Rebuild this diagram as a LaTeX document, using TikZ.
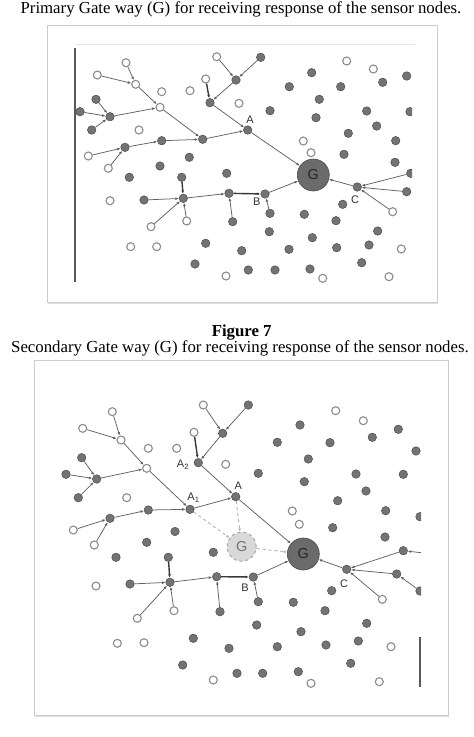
\documentclass[tikz,border=0pt]{standalone}
\usepackage{fontspec}
\setmainfont{Liberation Serif}
\setsansfont{Liberation Sans}
\usetikzlibrary{arrows.meta,shadows}

\begin{document}
\begin{tikzpicture}[x=1pt,y=-1pt,>={Latex[length=3.4pt,width=2.8pt]},
  sensor/.style={circle, draw=black!70, fill=black!55, line width=0.5pt, minimum size=8.5pt, inner sep=0pt},
  idle/.style={circle, draw=black!45, fill=white, line width=1.1pt, minimum size=8pt, inner sep=0pt},
  gate/.style={circle, draw=black!70, fill=black!58, line width=0.6pt, minimum size=32pt, inner sep=0pt, font=\sffamily\Large, text=black!85},
  ghost/.style={circle, draw=black!35, dashed, fill=black!15, line width=1pt, minimum size=29pt, inner sep=0pt, font=\sffamily\Large, text=black!55},
  link/.style={->, draw=black!62, line width=0.75pt},
  bold link/.style={link, line width=1.4pt, draw=black!78},
  hint/.style={->, dashed, draw=black!30, line width=0.9pt},
  tag/.style={font=\sffamily\fontsize{11}{12}\selectfont, text=black!80, inner sep=0pt},
  frame/.style={draw=black!20, line width=1pt, fill=white, drop shadow={shadow xshift=1pt, shadow yshift=-1.5pt, opacity=0.25}},
  caption/.style={font=\fontsize{16.8}{19}\selectfont, inner sep=0pt}]

  \fill[white] (0,0) rectangle (474,737);
  \useasboundingbox (0,0) rectangle (474,737);

  % Primary gateway
  \node[caption, anchor=base] (cap1) at (241,13.5) {Primary Gate way (G) for receiving response of the sensor nodes.};
  \path[frame] (47,25) rectangle (437,302);
  \draw[black!10] (75,44) -- (415,44);
  \draw[black!65, line width=1.5pt] (75,48) -- (75,282);
  \begin{scope}
    \clip (76,40) rectangle (412,292);
    \foreach \p [count=\i] in {(189.3,157.3),(160,166),(129.3,177.3),(226.7,173.3),(311.7,72.7),(406.7,76),
      (382.7,82.3),(289.3,86.7),(340.7,86.7),(319.3,99.3),(270,110.7),(366.7,111),(410,111.7),(316,117.7),
      (376.7,126),(348.3,133.3),(395.7,140.7),(344,154.3),(395,162.3),(342.7,204.3),(304.3,214.3),(336,220.7),
      (269.3,231.7),(312.3,237.7),(377.7,231),(241.7,250.7),(289,249.3),(336.7,247.7),(369,245),(361.7,262.7),
      (248.3,270),(275,270),(310,269),(205.7,243.3),(195,264)}
      \node[sensor] (ua\i) at \p {};
    \foreach \p [count=\i] in {(161.7,91.7),(190,90.7),(239,103.3),(139,130),(346.7,61),(373.3,69),(303.3,141),
      (311,152.7),(110,200.7),(130.7,246.7),(156.7,246.7),(226,276),(322.7,278.3),(389,276.7),(401.3,249)}
      \node[idle] (va\i) at \p {};

    \node[idle] (a1) at (126,62.7) {};
    \node[idle] (a2) at (97.3,75) {};
    \node[idle] (a3) at (135.7,84.3) {};
    \node[idle] (a4) at (160,107.3) {};
    \node[sensor] (a5) at (96,99.3) {};
    \node[sensor] (a6) at (80,111.7) {};
    \node[sensor] (a7) at (91.7,130) {};
    \node[sensor] (a8) at (110,116.7) {};
    \node[sensor] (a9) at (202.7,139.3) {};
    \node[sensor] (a10) at (161.7,140.7) {};
    \node[sensor] (a11) at (125,147.3) {};
    \node[idle] (a12) at (88.3,156) {};
    \node[idle] (a13) at (108.3,168.3) {};
    \node[sensor] (aA) at (247.7,130) {};
    \node[idle] (a14) at (216.7,56.7) {};
    \node[sensor] (a15) at (260.7,57.3) {};
    \node[sensor] (a16) at (236,80) {};
    \node[idle] (a17) at (205.7,79) {};
    \node[sensor] (a18) at (210,102.7) {};
    \node[gate] (aG) at (313.3,175) {G};
    \node[sensor] (a19) at (181.7,177.3) {};
    \node[sensor] (a20) at (183.3,198.3) {};
    \node[sensor] (a21) at (144,200) {};
    \node[idle] (a22) at (151,226.7) {};
    \node[idle] (a23) at (186.7,221) {};
    \node[sensor] (a24) at (229,193.3) {};
    \node[sensor] (a25) at (232.7,221.7) {};
    \node[sensor] (aB) at (265,194) {};
    \node[sensor] (a26) at (270,213.3) {};
    \node[sensor] (aC) at (357.3,187) {};
    \node[sensor] (a27) at (410.7,173.3) {};
    \node[sensor] (a28) at (406.7,191.7) {};
    \node[idle] (a29) at (392.7,211.7) {};

    \node[tag] (laA) at (250,120) {A};
    \node[tag] (laB) at (256.7,201.7) {B};
    \node[tag] (laC) at (355,199.3) {C};

    \draw[link] (a1) -- (a3);
    \draw[link] (a2) -- (a3);
    \draw[link] (a3) -- (a4);
    \draw[link] (a5) -- (a8);
    \draw[link] (a6) -- (a8);
    \draw[link] (a7) -- (a8);
    \draw[link] (a8) -- (a4);
    \draw[link] (a4) -- (a9);
    \draw[link] (a12) -- (a11);
    \draw[link] (a13) -- (a11);
    \draw[link] (a11) -- (a10);
    \draw[link] (a10) -- (a9);
    \draw[link] (a9) -- (aA);
    \draw[link] (a14) -- (a16);
    \draw[link] (a15) -- (a16);
    \draw[link] (a16) -- (a18);
    \draw[bold link] (a17) -- (a18);
    \draw[link] (a18) -- (aA);
    \draw[link] (aA) -- (aG);
    \draw[bold link] (a19) -- (a20);
    \draw[link] (a21) -- (a20);
    \draw[link] (a22) -- (a20);
    \draw[link] (a23) -- (a20);
    \draw[link] (a20) -- (a24);
    \draw[link] (a25) -- (a24);
    \draw[bold link] (a24) -- (aB);
    \draw[link] (a26) -- (aB);
    \draw[link] (aB) -- (aG);
    \draw[link] (aC) -- (aG);
    \draw[link] (a27) -- (aC);
    \draw[link] (a28) -- (aC);
    \draw[link] (a29) -- (aC);
  \end{scope}

  % Secondary gateway
  \node[caption, anchor=base, font=\fontsize{16.8}{19}\selectfont\bfseries] (fig) at (241.7,336) {Figure 7};
  \node[caption, anchor=base] (cap2) at (240,352.3) {Secondary Gate way (G) for receiving response of the sensor nodes.};
  \path[frame] (34,360) rectangle (448,715);
  \draw[black!65, line width=1.5pt] (420,637) -- (420,687);
  \begin{scope}
    \clip (38,385) rectangle (421,705);
    \foreach \p [count=\i] in {(300,425),(398.3,429.3),(277.3,442.3),(330,442.7),(372.3,437.3),(416,451),
      (308.3,459),(258.3,473.3),(304.3,481.7),(356,474),(403.3,474.3),(366,491),(337.7,500.7),(385.7,510.7),
      (332.7,527.7),(420,516.7),(385,537),(175,531.5),(146.7,542.3),(116,557.3),(213.3,552.3),(193.3,638.3),
      (229,648.3),(182.7,665),(237,673.3),(256.7,625),(331.7,590.7),(293.3,602.3),(325,610.7),(301,631.7),
      (366.7,623.3),(277.3,646.7),(326,645),(358.3,641),(350.7,663.3),(262.7,673.3),(298.3,671.7)}
      \node[sensor] (ub\i) at \p {};
    \foreach \p [count=\i] in {(148.3,448.3),(176.7,448.3),(225.7,464.3),(126.7,497.7),(335.7,410.7),
      (363.3,420.7),(292.3,511),(299.3,524.3),(96,586),(117.3,643.3),(144,642.7),(213.3,680),(391,646.7),
      (311,683.3),(379.3,681.7)}
      \node[idle] (vb\i) at \p {};

    \node[idle] (b1) at (112.3,411.7) {};
    \node[idle] (b2) at (82.7,428.3) {};
    \node[idle] (b3) at (121,440) {};
    \node[idle] (b4) at (146.7,468.3) {};
    \node[sensor] (b5) at (81.7,457.7) {};
    \node[sensor] (b6) at (66,474.3) {};
    \node[sensor] (b7) at (78.3,497.7) {};
    \node[sensor] (b8) at (96.7,479) {};
    \node[sensor] (bA1) at (190,509.3) {};
    \node[sensor] (b9) at (148.3,510) {};
    \node[sensor] (b10) at (110,518.3) {};
    \node[idle] (b11) at (73.3,530) {};
    \node[idle] (b12) at (94.3,545) {};
    \node[sensor] (bA) at (235.7,496.7) {};
    \node[ghost] (bH) at (241.7,546.7) {G};
    \node[idle] (b13) at (203.3,405) {};
    \node[sensor] (b14) at (248.3,405) {};
    \node[sensor] (b15) at (222.7,433.3) {};
    \node[idle] (b16) at (194,432.3) {};
    \node[sensor] (bA2) at (198.3,462.7) {};
    \node[gate] (bG) at (303.3,554) {G};
    \node[sensor] (b17) at (168.3,557.3) {};
    \node[sensor] (b18) at (170,582.3) {};
    \node[sensor] (b19) at (130,584) {};
    \node[idle] (b20) at (137.3,618.3) {};
    \node[idle] (b21) at (174,610.7) {};
    \node[sensor] (b22) at (216.7,576.7) {};
    \node[sensor] (b23) at (220,611.7) {};
    \node[sensor] (bB) at (253.3,577) {};
    \node[sensor] (b24) at (258.3,601.7) {};
    \node[sensor] (bC) at (346.7,569.3) {};
    \node[sensor] (b25) at (403.3,550.7) {};
    \node[sensor] (b26) at (396.7,574) {};
    \node[idle] (b27) at (382.3,599.3) {};
    \node[sensor] (b28) at (420,591) {};
    \coordinate (b29) at (424,553);

    \node[tag] (lbA2) at (183,465) {A\textsubscript{2}};
    \node[tag] (lbA1) at (193.5,498) {A\textsubscript{1}};
    \node[tag] (lbA) at (238.3,486) {A};
    \node[tag] (lbB) at (245,587.3) {B};
    \node[tag] (lbC) at (344,583.3) {C};

    \draw[link] (b1) -- (b3);
    \draw[link] (b2) -- (b3);
    \draw[link] (b3) -- (b4);
    \draw[link] (b5) -- (b8);
    \draw[link] (b6) -- (b8);
    \draw[link] (b7) -- (b8);
    \draw[link] (b8) -- (b4);
    \draw[link] (b4) -- (bA1);
    \draw[link] (b11) -- (b10);
    \draw[link] (b12) -- (b10);
    \draw[link] (b10) -- (b9);
    \draw[link] (b9) -- (bA1);
    \draw[link] (bA1) -- (bA);
    \draw[hint] (bA1) -- (bH);
    \draw[hint] (bA) -- (bH);
    \draw[link] (b13) -- (b15);
    \draw[link] (b14) -- (b15);
    \draw[link] (b15) -- (bA2);
    \draw[bold link] (b16) -- (bA2);
    \draw[link] (bA2) -- (bA);
    \draw[link] (bA) -- (bG);
    \draw[hint] (bH) -- (bG);
    \draw[bold link] (b17) -- (b18);
    \draw[link] (b19) -- (b18);
    \draw[link] (b20) -- (b18);
    \draw[link] (b21) -- (b18);
    \draw[link] (b18) -- (b22);
    \draw[link] (b23) -- (b22);
    \draw[bold link] (b22) -- (bB);
    \draw[link] (b24) -- (bB);
    \draw[link] (bB) -- (bG);
    \draw[link] (bC) -- (bG);
    \draw[link] (b25) -- (bC);
    \draw[link] (b26) -- (bC);
    \draw[link] (b27) -- (bC);
    \draw[link] (b28) -- (b26);
    \draw[link] (b29) -- (b25);
  \end{scope}
\end{tikzpicture}
\end{document}
